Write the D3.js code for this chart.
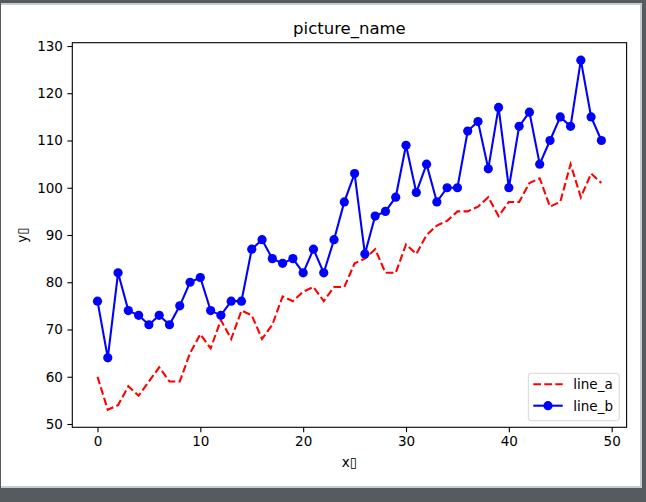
<!DOCTYPE html>
<html>
<head>
<meta charset="utf-8">
<script src="https://cdn.jsdelivr.net/npm/d3@7"></script>
<style>
  html, body { margin: 0; padding: 0; background: #555b5e; }
  svg { display: block; font-family: "DejaVu Sans", sans-serif; }
</style>
</head>
<body>
<svg id="chart"></svg>
<script>
// values
const xs = d3.range(0, 50);
const lineA = [60, 53, 54, 58, 56, 59, 62, 59, 59, 65,
               69, 66, 72, 68, 74, 73, 68, 71, 77, 76,
               78, 79, 76, 79, 79, 84, 85, 87, 82, 82,
               88, 86, 90, 92, 93, 95, 95, 96, 98, 94,
               97, 97, 101, 102, 96, 97, 105, 98, 103, 101];
const lineB = [76, 64, 82, 74, 73, 71, 73, 71, 75, 80,
               81, 74, 73, 76, 76, 87, 89, 85, 84, 85,
               82, 87, 82, 89, 97, 103, 86, 94, 95, 98,
               109, 99, 105, 97, 100, 100, 112, 114, 104, 117,
               100, 113, 116, 105, 110, 115, 113, 127, 115, 110];
const xTicks = [0, 10, 20, 30, 40, 50];
const yTicks = [50, 60, 70, 80, 90, 100, 110, 120, 130];
const seriesNames = ['line_a', 'line_b'];
const title = 'picture_name';
const xLabel = 'x\u25AF';
const yLabel = 'y\u25AF';

const svg = d3.select('#chart')
  .attr('width', 646)
  .attr('height', 502);

// window frame
svg.append('rect').attr('x', 0).attr('y', 0).attr('width', 646).attr('height', 502).attr('fill', '#555b5e');
svg.append('rect').attr('x', 1).attr('y', 3).attr('width', 641).attr('height', 485).attr('fill', '#c9cbcc');
svg.append('rect').attr('x', 1).attr('y', 5).attr('width', 639).attr('height', 481).attr('fill', '#ffffff');

const plot = { left: 72.3, top: 42.7, right: 626.6, bottom: 427.3 };

// matplotlib-like 5% margins
const xExt = d3.extent(xs);
const allY = lineA.concat(lineB);
const yExt = d3.extent(allY);
const xPad = (xExt[1] - xExt[0]) * 0.05;
const yPad = (yExt[1] - yExt[0]) * 0.05;

const x = d3.scaleLinear()
  .domain([xExt[0] - xPad, xExt[1] + xPad])
  .range([plot.left, plot.right]);

const y = d3.scaleLinear()
  .domain([yExt[0] - yPad, yExt[1] + yPad])
  .range([plot.bottom, plot.top]);

// axes
const xAxis = svg.append('g')
  .attr('transform', `translate(0,${plot.bottom})`)
  .call(d3.axisBottom(x).tickValues(xTicks).tickSize(4.9).tickPadding(4.5).tickSizeOuter(0));

const yAxis = svg.append('g')
  .attr('transform', `translate(${plot.left},0)`)
  .call(d3.axisLeft(y).tickValues(yTicks).tickSize(4.9).tickPadding(4.5).tickSizeOuter(0));

[xAxis, yAxis].forEach(g => {
  g.select('.domain').remove();
  g.selectAll('.tick line').attr('stroke', '#000').attr('stroke-width', 1.1);
  g.selectAll('.tick text')
    .attr('fill', '#000')
    .style('font-family', '"DejaVu Sans", sans-serif')
    .style('font-size', '13.5px');
});

// frame of the axes
svg.append('rect')
  .attr('x', plot.left)
  .attr('y', plot.top)
  .attr('width', plot.right - plot.left)
  .attr('height', plot.bottom - plot.top)
  .attr('fill', 'none')
  .attr('stroke', '#000')
  .attr('stroke-width', 1.1);

// line_a
const lineGen = d3.line()
  .x((d, i) => x(xs[i]))
  .y(d => y(d));

svg.append('path')
  .datum(lineA)
  .attr('fill', 'none')
  .attr('stroke', '#ff0000')
  .attr('stroke-width', 2.08)
  .attr('stroke-dasharray', '7.7,3.3')
  .attr('d', lineGen);

// line_b
svg.append('path')
  .datum(lineB)
  .attr('fill', 'none')
  .attr('stroke', '#0000ff')
  .attr('stroke-width', 2.08)
  .attr('d', lineGen);

svg.append('g')
  .selectAll('circle')
  .data(lineB)
  .join('circle')
  .attr('cx', (d, i) => x(xs[i]))
  .attr('cy', d => y(d))
  .attr('r', 4.6)
  .attr('fill', '#0000ff');

// title and labels
svg.append('text')
  .attr('x', (plot.left + plot.right) / 2)
  .attr('y', 34)
  .attr('text-anchor', 'middle')
  .style('font-size', '16.5px')
  .text(title);

svg.append('text')
  .attr('x', (plot.left + plot.right) / 2)
  .attr('y', 467)
  .attr('text-anchor', 'middle')
  .style('font-size', '13.5px')
  .text(xLabel);

svg.append('text')
  .attr('transform', `translate(27,${(plot.top + plot.bottom) / 2}) rotate(-90)`)
  .attr('text-anchor', 'middle')
  .style('font-size', '13.5px')
  .text(yLabel);

// legend
const legend = svg.append('g').attr('transform', 'translate(528.3,373.3)');
legend.append('rect')
  .attr('width', 91)
  .attr('height', 47.4)
  .attr('rx', 3)
  .attr('fill', 'rgba(255,255,255,0.8)')
  .attr('stroke', '#d6d6d6')
  .attr('stroke-width', 1);

const rows = [
  { name: seriesNames[0], color: '#ff0000', dash: '7.7,3.3', marker: false },
  { name: seriesNames[1], color: '#0000ff', dash: null, marker: true }
];
rows.forEach((r, i) => {
  const ry = 11 + i * 21.4;
  legend.append('line')
    .attr('x1', 5).attr('x2', 34.4)
    .attr('y1', ry).attr('y2', ry)
    .attr('stroke', r.color)
    .attr('stroke-width', 2.08)
    .attr('stroke-dasharray', r.dash);
  if (r.marker) {
    legend.append('circle').attr('cx', 19.7).attr('cy', ry).attr('r', 4.6).attr('fill', r.color);
  }
  legend.append('text')
    .attr('x', 45)
    .attr('y', ry + 5)
    .style('font-size', '13.5px')
    .text(r.name);
});
</script>
</body>
</html>
